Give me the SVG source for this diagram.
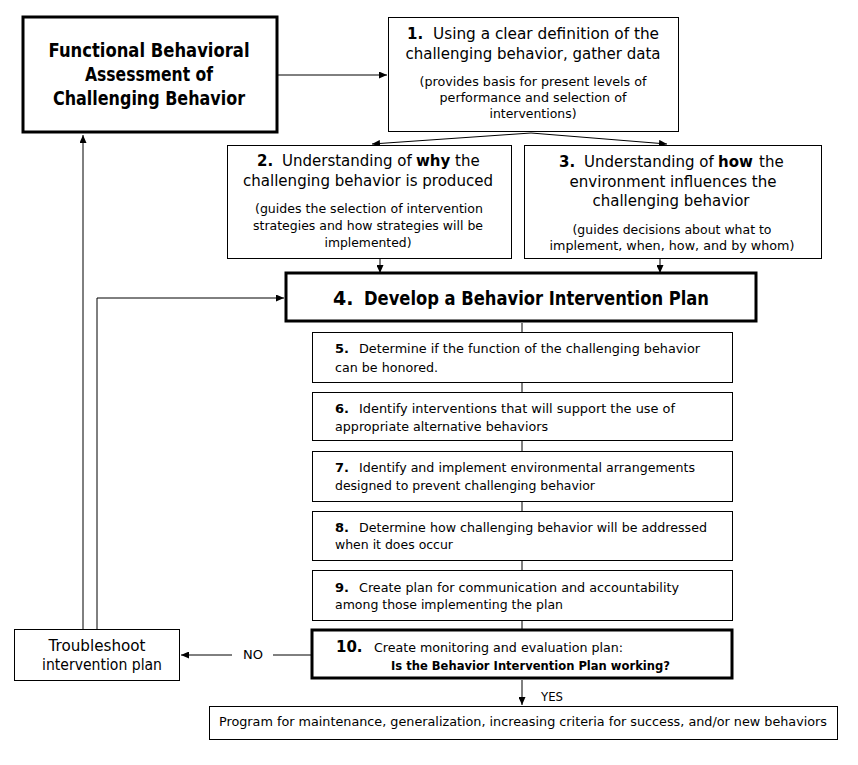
<svg xmlns="http://www.w3.org/2000/svg" width="858" height="765" viewBox="0 0 858 765">
<style>
.b{fill:#fff;stroke:#000;stroke-width:1}
.bt{fill:#fff;stroke:#000;stroke-width:3}
text{font-family:"DejaVu Sans","Liberation Sans",sans-serif;fill:#000}
.c{text-anchor:middle}
.m{font-size:16px}
.h{font-size:15px}
.s{font-size:12.5px}
.p{font-size:13px}
.n{font-size:13px;font-weight:bold}
.bd{font-weight:bold}
.ln{fill:none;stroke:#000;stroke-width:1}
</style>
<defs>
<marker id="ah" markerWidth="9" markerHeight="7" refX="8" refY="3.5" orient="auto" markerUnits="userSpaceOnUse">
<path d="M0,0 L8,3.5 L0,7 z" fill="#000"/>
</marker>
</defs>
<rect width="858" height="765" fill="#fff"/>
<g id="connectors">
<line class="ln" x1="277" y1="75" x2="387" y2="75" marker-end="url(#ah)"/>
<line class="ln" x1="531" y1="133" x2="372" y2="144" marker-end="url(#ah)"/>
<line class="ln" x1="531" y1="133" x2="667" y2="144" marker-end="url(#ah)"/>
<line class="ln" x1="380" y1="259" x2="380" y2="273" marker-end="url(#ah)"/>
<line class="ln" x1="660" y1="259" x2="660" y2="273" marker-end="url(#ah)"/>
<line class="ln" x1="522" y1="323" x2="522" y2="332"/>
<line class="ln" x1="522" y1="383" x2="522" y2="392"/>
<line class="ln" x1="522" y1="441" x2="522" y2="451"/>
<line class="ln" x1="522" y1="502" x2="522" y2="511"/>
<line class="ln" x1="522" y1="561" x2="522" y2="570"/>
<line class="ln" x1="522" y1="621" x2="522" y2="629"/>
<line class="ln" x1="522" y1="680" x2="522" y2="705" marker-end="url(#ah)"/>
<line class="ln" x1="311" y1="655" x2="273" y2="655"/>
<line class="ln" x1="232" y1="655" x2="181" y2="655" marker-end="url(#ah)"/>
<line class="ln" x1="83" y1="629" x2="83" y2="135" marker-end="url(#ah)"/>
<polyline class="ln" points="97,629 97,298 284,298" marker-end="url(#ah)"/>
<text class="s" x="243" y="659" textLength="20" lengthAdjust="spacingAndGlyphs">NO</text>
<text class="s" x="541" y="701" textLength="22" lengthAdjust="spacingAndGlyphs">YES</text>
</g>
<g id="fba">
<rect class="bt" x="23" y="17" width="254" height="115"/>
<text class="c bd" x="149" y="57" font-size="19" textLength="201" lengthAdjust="spacingAndGlyphs">Functional Behavioral</text>
<text class="c bd" x="149" y="81" font-size="19" textLength="128" lengthAdjust="spacingAndGlyphs">Assessment of</text>
<text class="c bd" x="149" y="105" font-size="19" textLength="192" lengthAdjust="spacingAndGlyphs">Challenging Behavior</text>
</g>
<g id="step1">
<rect class="b" x="388.5" y="17.5" width="290" height="114"/>
<text class="h bd" x="407" y="39">1.</text>
<text class="m" x="433" y="39" textLength="226" lengthAdjust="spacingAndGlyphs">Using a clear definition of the</text>
<text class="c m" x="533" y="59" textLength="255" lengthAdjust="spacingAndGlyphs">challenging behavior, gather data</text>
<text class="c s" x="533" y="86" textLength="227" lengthAdjust="spacingAndGlyphs">(provides basis for present levels of</text>
<text class="c s" x="533" y="102" textLength="187" lengthAdjust="spacingAndGlyphs">performance and selection of</text>
<text class="c s" x="533" y="118" textLength="87" lengthAdjust="spacingAndGlyphs">interventions)</text>
</g>
<g id="step2">
<rect class="b" x="227.5" y="145.5" width="284" height="113"/>
<text class="h bd" x="257" y="166">2.</text>
<text class="h" x="282" y="166">Understanding of</text>
<text class="h bd" x="416" y="166">why</text>
<text class="h" x="455" y="166">the</text>
<text class="c m" x="368" y="186" textLength="250" lengthAdjust="spacingAndGlyphs">challenging behavior is produced</text>
<text class="c s" x="369" y="213" textLength="228" lengthAdjust="spacingAndGlyphs">(guides the selection of intervention</text>
<text class="c s" x="368" y="230" textLength="230" lengthAdjust="spacingAndGlyphs">strategies and how strategies will be</text>
<text class="c s" x="368" y="247" textLength="87" lengthAdjust="spacingAndGlyphs">implemented)</text>
</g>
<g id="step3">
<rect class="b" x="524.5" y="145.5" width="297" height="113"/>
<text class="h bd" x="559" y="167">3.</text>
<text class="h" x="584" y="167">Understanding of</text>
<text class="h bd" x="718" y="167">how</text>
<text class="h" x="759" y="167">the</text>
<text class="c m" x="673" y="187" textLength="207" lengthAdjust="spacingAndGlyphs">environment influences the</text>
<text class="c m" x="671" y="206" textLength="157" lengthAdjust="spacingAndGlyphs">challenging behavior</text>
<text class="c s" x="672" y="234" textLength="199" lengthAdjust="spacingAndGlyphs">(guides decisions about what to</text>
<text class="c s" x="672" y="250" textLength="245" lengthAdjust="spacingAndGlyphs">implement, when, how, and by whom)</text>
</g>
<g id="step4">
<rect class="bt" x="286" y="273" width="470" height="48"/>
<text class="bd" x="333" y="305" font-size="19">4.</text>
<text class="bd" x="364" y="305" font-size="20" textLength="345" lengthAdjust="spacingAndGlyphs">Develop a Behavior Intervention Plan</text>
</g>
<g id="step5">
<rect class="b" x="312.5" y="332.5" width="420" height="50"/>
<text class="n" x="335" y="353">5.</text>
<text class="p" x="359" y="353" textLength="341" lengthAdjust="spacingAndGlyphs">Determine if the function of the challenging behavior</text>
<text class="p" x="335" y="372" textLength="103" lengthAdjust="spacingAndGlyphs">can be honored.</text>
</g>
<g id="step6">
<rect class="b" x="312.5" y="392.5" width="420" height="48"/>
<text class="n" x="335" y="413">6.</text>
<text class="p" x="359" y="413" textLength="316" lengthAdjust="spacingAndGlyphs">Identify interventions that will support the use of</text>
<text class="p" x="335" y="431" textLength="213" lengthAdjust="spacingAndGlyphs">appropriate alternative behaviors</text>
</g>
<g id="step7">
<rect class="b" x="312.5" y="451.5" width="420" height="50"/>
<text class="n" x="335" y="472">7.</text>
<text class="p" x="359" y="472" textLength="336" lengthAdjust="spacingAndGlyphs">Identify and implement environmental arrangements</text>
<text class="p" x="335" y="490" textLength="260" lengthAdjust="spacingAndGlyphs">designed to prevent challenging behavior</text>
</g>
<g id="step8">
<rect class="b" x="312.5" y="511.5" width="420" height="49"/>
<text class="n" x="335" y="532">8.</text>
<text class="p" x="359" y="532" textLength="348" lengthAdjust="spacingAndGlyphs">Determine how challenging behavior will be addressed</text>
<text class="p" x="335" y="549" textLength="118" lengthAdjust="spacingAndGlyphs">when it does occur</text>
</g>
<g id="step9">
<rect class="b" x="312.5" y="570.5" width="420" height="50"/>
<text class="n" x="335" y="592">9.</text>
<text class="p" x="359" y="592" textLength="320" lengthAdjust="spacingAndGlyphs">Create plan for communication and accountability</text>
<text class="p" x="335" y="609" textLength="228" lengthAdjust="spacingAndGlyphs">among those implementing the plan</text>
</g>
<g id="step10">
<rect class="bt" x="312" y="630" width="420" height="48"/>
<text class="bd" x="336" y="652" font-size="15">10.</text>
<text class="p" x="374" y="652" textLength="249" lengthAdjust="spacingAndGlyphs">Create monitoring and evaluation plan:</text>
<text class="p bd" x="391" y="670" textLength="279" lengthAdjust="spacingAndGlyphs">Is the Behavior Intervention Plan working?</text>
</g>
<g id="troubleshoot">
<rect class="b" x="14.5" y="629.5" width="165" height="51"/>
<text class="c m" x="97" y="651" textLength="97" lengthAdjust="spacingAndGlyphs">Troubleshoot</text>
<text class="c m" x="102" y="670" textLength="120" lengthAdjust="spacingAndGlyphs">intervention plan</text>
</g>
<g id="maintenance">
<rect class="b" x="209.5" y="706.5" width="628" height="33"/>
<text class="p" x="219" y="726" textLength="608" lengthAdjust="spacingAndGlyphs">Program for maintenance, generalization, increasing criteria for success, and/or new behaviors</text>
</g>
</svg>
